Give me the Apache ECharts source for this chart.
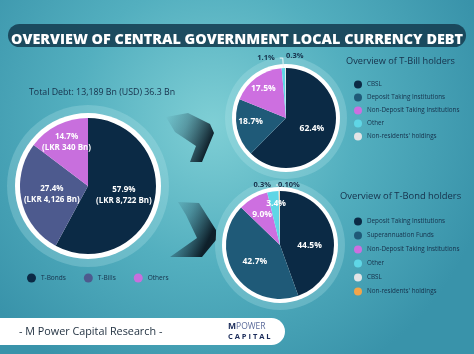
<!DOCTYPE html>
<html>
<head>
<meta charset="utf-8">
<script src="https://cdn.jsdelivr.net/npm/echarts@6/dist/echarts.min.js"></script>
<style>
  html, body { margin: 0; padding: 0; }
  #chart { width: 474px; height: 354px; }
</style>
</head>
<body>
<div id="chart"></div>
<script>
// 总债务构成
const debtNames = ['T-Bonds', 'T-Bills', 'Others'];
const debtShare = [57.9, 27.4, 14.7];
const debtLkrBn = [8722, 4126, 340];
const debtColors = ['#0b2a45', '#4d5a8e', '#c86fdd'];

// T-Bill 持有者
const billNames = ['CBSL', 'Deposit Taking Institutions', 'Non-Deposit Taking Institutions', 'Other', "Non-residents' holdings"];
const billShare = [62.4, 18.7, 17.5, 1.1, 0.3];
const billColors = ['#0b2a45', '#1f5a78', '#cd6fe0', '#5fd6e6', '#e2e4e6'];

// T-Bond 持有者
const bondNames = ['Deposit Taking Institutions', 'Superannuation Funds', 'Non-Deposit Taking Institutions', 'Other', 'CBSL', "Non-residents' holdings"];
const bondShare = [44.5, 42.7, 9.0, 3.4, 0.3, 0.10];
const bondLabels = ['44.5%', '42.7%', '9.0%', '3.4%', '0.3%', '0.10%'];
const bondColors = ['#0b2a45', '#1f5a78', '#cd6fe0', '#5fd6e6', '#e2e4e6', '#f2a54a'];

const FONT = '"Open Sans", sans-serif';
const DARK = '#16304a';

// 饼图中心与半径
const MAIN = { c: [88, 186], r: 68 };
const BILL = { c: [286, 118], r: 50 };
const BOND = { c: [280, 245], r: 54 };

const fmt = (n) => String(n).replace(/\B(?=(\d{3})+(?!\d))/g, ',');

const ring = (p, extra, fill) => ({
    type: 'circle', silent: true,
    shape: { cx: p.c[0], cy: p.c[1], r: p.r + extra },
    style: { fill }
});

const chevronFill = {
    type: 'linear', x: 0, y: 0, x2: 1, y2: 0.4,
    colorStops: [
        { offset: 0, color: 'rgba(40,80,95,0)' },
        { offset: 0.45, color: 'rgba(30,60,75,0.35)' },
        { offset: 1, color: 'rgba(10,24,34,0.95)' }
    ]
};

const insideLabel = { show: true, position: 'inside', color: '#fff', fontFamily: FONT, fontWeight: 'bold', fontSize: 8.5 };
const outsideLabel = { show: true, position: 'outside', color: DARK, fontFamily: FONT, fontWeight: 'bold', fontSize: 7.5 };
const noLine = { show: false };

const buildData = (names, values, colors, opts) => names.map((n, i) => {
    const item = { name: n, value: values[i], itemStyle: { color: colors[i] } };
    if (opts[i]) Object.assign(item, opts[i]);
    return item;
});

const chart = echarts.init(document.getElementById('chart'), null, { renderer: 'canvas' });

const option = {
    animation: false,
    backgroundColor: {
        type: 'radial', x: 0.45, y: 0.35, r: 0.8,
        colorStops: [
            { offset: 0, color: '#7fcfd5' },
            { offset: 0.5, color: '#53afbf' },
            { offset: 1, color: '#3993aa' }
        ]
    },
    title: {
        text: 'OVERVIEW OF CENTRAL GOVERNMENT LOCAL CURRENCY DEBT',
        left: 'center', top: 28,
        textStyle: { color: '#fff', fontFamily: FONT, fontWeight: 800, fontSize: 14.4 }
    },
    graphic: [
        {
            type: 'rect', silent: true, z: -1,
            shape: { x: 8, y: 24, width: 458, height: 23, r: 11.5 },
            style: { fill: 'rgba(22,64,84,0.9)' }
        },
        {
            type: 'text', silent: true,
            style: { text: 'Total Debt: 13,189 Bn (USD) 36.3 Bn', x: 29, y: 92, textVerticalAlign: 'middle', fill: DARK, font: '8.8px ' + FONT }
        },
        {
            type: 'text', silent: true,
            style: { text: 'Overview of T-Bill holders', x: 346, y: 61, textVerticalAlign: 'middle', fill: DARK, font: '9.2px ' + FONT }
        },
        {
            type: 'text', silent: true,
            style: { text: 'Overview of T-Bond holders', x: 340, y: 196, textVerticalAlign: 'middle', fill: DARK, font: '9.4px ' + FONT }
        },
        // 箭头装饰
        {
            type: 'polygon', silent: true,
            shape: { points: [[166, 117], [188, 113], [210, 124], [214, 133], [202, 162], [190, 162], [196, 146], [175, 132]] },
            style: { fill: chevronFill }
        },
        {
            type: 'polygon', silent: true,
            shape: { points: [[178, 202], [199, 203], [216, 230], [216, 240], [202, 257], [170, 257], [197, 238], [186, 215]] },
            style: { fill: chevronFill }
        },
        // 饼图外圈
        ring(MAIN, 13, 'rgba(190,235,238,0.25)'),
        ring(MAIN, 5, '#ffffff'),
        ring(BILL, 11, 'rgba(190,235,238,0.25)'),
        ring(BILL, 4, '#ffffff'),
        ring(BOND, 11, 'rgba(190,235,238,0.25)'),
        ring(BOND, 4, '#ffffff'),
        // 页脚
        {
            type: 'rect', silent: true,
            shape: { x: -20, y: 318, width: 305, height: 27, r: [0, 13.5, 13.5, 0] },
            style: { fill: '#ffffff' }
        },
        {
            type: 'text', silent: true,
            style: { text: '- M Power Capital Research -', x: 19, y: 332, textVerticalAlign: 'middle', fill: '#1e2e3e', font: '500 10.8px ' + FONT }
        },
        {
            type: 'text', silent: true,
            style: {
                x: 228, y: 327, textVerticalAlign: 'middle',
                text: '{m|M}{p|POWER}',
                rich: {
                    m: { fill: '#1b2c5a', font: 'bold 8.5px ' + FONT },
                    p: { fill: '#5a6a9a', font: '8.5px ' + FONT, textDecoration: 'underline' }
                }
            }
        },
        {
            type: 'text', silent: true,
            style: { text: 'C A P I T A L', x: 228, y: 337, textVerticalAlign: 'middle', fill: '#1b2c5a', font: 'bold 7.5px ' + FONT }
        }
    ],
    legend: [
        {
            orient: 'horizontal', left: 22, top: 268.5,
            icon: 'circle', itemWidth: 9, itemHeight: 9, itemGap: 18,
            textStyle: { color: DARK, fontFamily: FONT, fontSize: 6.5 },
            data: debtNames.map((n, i) => ({ name: n, itemStyle: { color: debtColors[i] } }))
        },
        {
            orient: 'vertical', left: 349, top: 75.5,
            icon: 'circle', itemWidth: 8, itemHeight: 9, itemGap: 5,
            textStyle: { color: DARK, fontFamily: FONT, fontSize: 6.3 },
            data: billNames.map((n, i) => ({ name: n, itemStyle: { color: billColors[i] } }))
        },
        {
            orient: 'vertical', left: 349, top: 212.5,
            icon: 'circle', itemWidth: 8, itemHeight: 9, itemGap: 6,
            textStyle: { color: DARK, fontFamily: FONT, fontSize: 6.3 },
            data: bondNames.map((n, i) => ({ name: n, itemStyle: { color: bondColors[i] } }))
        }
    ],
    series: [
        {
            name: 'Debt', type: 'pie', center: MAIN.c, radius: MAIN.r,
            startAngle: 90, clockwise: true, silent: true,
            label: Object.assign({}, insideLabel, {
                fontSize: 8, lineHeight: 11,
                formatter: (p) => debtShare[p.dataIndex].toFixed(1) + '%\n(LKR ' + fmt(debtLkrBn[p.dataIndex]) + ' Bn)'
            }),
            labelLine: { show: false },
            data: buildData(debtNames, debtShare, debtColors, { 2: { label: { offset: [-5, -11] } } })
        },
        {
            name: 'T-Bill', type: 'pie', center: BILL.c, radius: BILL.r,
            startAngle: 90, clockwise: true, silent: true, avoidLabelOverlap: false,
            label: Object.assign({}, insideLabel, { formatter: (p) => p.value.toFixed(1) + '%' }),
            labelLine: { show: true, length: 10, length2: 3, lineStyle: { color: '#eef6f8', width: 1 } },
            labelLayout: (p) => (p.dataIndex === 4 ? { dx: 26, dy: -2 } : {}),
            data: buildData(billNames, billShare, billColors, {
                1: { label: { offset: [-8, -2] } },
                2: { label: { offset: [-6, -7] } },
                3: { label: outsideLabel },
                4: { label: outsideLabel, labelLine: noLine }
            })
        },
        {
            name: 'T-Bond', type: 'pie', center: BOND.c, radius: BOND.r,
            startAngle: 90, clockwise: true, silent: true, avoidLabelOverlap: false,
            label: Object.assign({}, insideLabel, { formatter: (p) => bondLabels[p.dataIndex] }),
            labelLine: { show: true, length: 6, length2: 3, lineStyle: { color: '#eef6f8', width: 1 } },
            labelLayout: (p) => (p.dataIndex === 5 ? { dx: 28, dy: 0 } : {}),
            data: buildData(bondNames, bondShare, bondColors, {
                0: { label: { offset: [0, 6] } },
                2: { label: { offset: [-3, -4] } },
                3: { label: { offset: [0, -12] } },
                4: { label: outsideLabel },
                5: { label: outsideLabel, labelLine: noLine }
            })
        }
    ]
};

chart.setOption(option);
window.addEventListener('resize', () => chart.resize());
</script>
</body>
</html>
